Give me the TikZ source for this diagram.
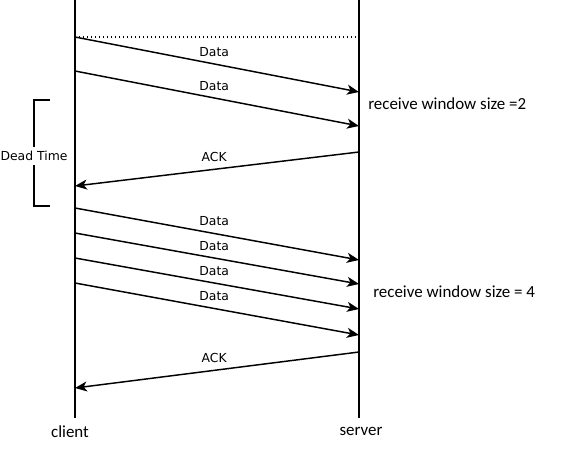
\documentclass[tikz,border=0pt]{standalone}
\usepackage{fontspec}
\setmainfont{DejaVu Sans}
\newfontfamily\calib{Carlito}
\usetikzlibrary{arrows.meta}

\begin{document}
\begin{tikzpicture}[x=0.75pt,y=-0.75pt,
  lifeline/.style={line width=1.6pt},
  msg/.style={line width=1.1pt,-{Stealth[length=9pt,width=7.5pt,inset=2.5pt]}},
  msglabel/.style={font=\fontsize{9.3}{11}\selectfont,above=3pt,pos=0.49,inner sep=2pt},
  note/.style={font=\calib\fontsize{12.7}{15}\selectfont,anchor=west,inner sep=0pt}]

\useasboundingbox (0,0) rectangle (569,458);

\coordinate (clientTop) at (75,0);
\coordinate (clientBot) at (75,418);
\coordinate (serverTop) at (359,0);
\coordinate (serverBot) at (359,418);

\draw[lifeline] (clientTop) -- (clientBot);
\draw[lifeline] (serverTop) -- (serverBot);

\coordinate (c0) at (75,37);
\coordinate (s0) at (357,37);
\draw[dotted,line width=1pt] (c0) -- (s0);

\coordinate (c1) at (75,37);
\coordinate (s1) at (359,92);
\coordinate (c2) at (75,71);
\coordinate (s2) at (359,126);
\coordinate (s3) at (359,152);
\coordinate (c3) at (75,186);
\coordinate (c4) at (75,208);
\coordinate (s4) at (359,260);
\coordinate (c5) at (75,233);
\coordinate (s5) at (359,284);
\coordinate (c6) at (75,258);
\coordinate (s6) at (359,309);
\coordinate (c7) at (75,283);
\coordinate (s7) at (359,335);
\coordinate (s8) at (359,352);
\coordinate (c8) at (75,388);

\draw[msg] (c1) -- node[msglabel] {Data} (s1);
\draw[msg] (c2) -- node[msglabel] {Data} (s2);
\draw[msg] (s3) -- node[msglabel,pos=0.51] {ACK} (c3);
\draw[msg] (c4) -- node[msglabel] {Data} (s4);
\draw[msg] (c5) -- node[msglabel] {Data} (s5);
\draw[msg] (c6) -- node[msglabel] {Data} (s6);
\draw[msg] (c7) -- node[msglabel] {Data} (s7);
\draw[msg] (s8) -- node[msglabel,pos=0.51] {ACK} (c8);

\coordinate (deadTop) at (50,100);
\coordinate (deadBot) at (50,206);
\draw[line width=1.1pt] (deadTop) -- (34,100) -- (34,206) -- (deadBot);
\node[fill=white,inner xsep=0pt,inner ysep=3pt,font=\fontsize{9.3}{11}\selectfont] (dead) at (34,156) {Dead Time};

\node[note] (window1) at (368,104) {receive window size =2};
\node[note] (window2) at (373,292) {receive window size = 4};

\node[note,anchor=center] (client) at (70,432) {client};
\node[note,anchor=center] (server) at (361,431) {server};

\end{tikzpicture}
\end{document}
